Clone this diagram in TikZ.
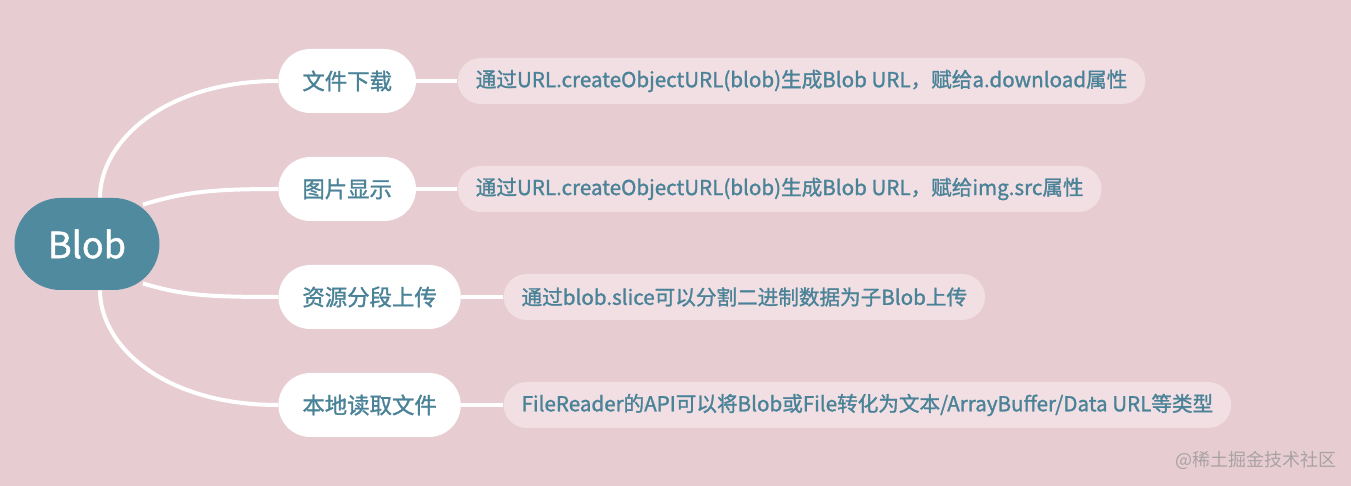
\documentclass[tikz,border=0pt]{standalone}
\usepackage{fontspec}
\setmainfont{Noto Sans CJK SC}
\newfontfamily\medfont[FakeBold=1.3]{Noto Sans CJK SC}
\usetikzlibrary{positioning,calc,backgrounds}

\definecolor{bgpink}{HTML}{E7CDD2}
\definecolor{blobteal}{HTML}{4F8A9F}
\definecolor{txtteal}{HTML}{4A8297}
\definecolor{pillpink}{HTML}{F1DFE3}
\definecolor{markgray}{HTML}{A9A2A5}

\begin{document}
\begin{tikzpicture}[x=0.5pt,y=-0.5pt,
    root/.style={fill=blobteal,text=white,rounded corners=23pt,minimum width=72.5pt,minimum height=46pt,font=\medfont\fontsize{18}{20}\selectfont},
    topic/.style={fill=white,text=txtteal,rounded corners=16pt,minimum height=32pt,inner xsep=12pt,anchor=west,font=\medfont\fontsize{11.2}{13}\selectfont},
    note/.style={fill=pillpink,text=txtteal,rounded corners=11.5pt,minimum height=23pt,inner xsep=9pt,font=\medfont\fontsize{10.3}{12}\selectfont},
    link/.style={draw=white,line width=2pt}]
    %\draw[step=50,help lines] (0,0) grid (1351,486);

    \node[root] (blob) at (87,244) {Blob};

    \node[topic] (dl) at (278,81) {文件下载};
    \node[topic] (img) at (278,189) {图片显示};
    \node[topic] (up) at (278,297) {资源分段上传};
    \node[topic] (read) at (278,405) {本地读取文件};

    \node[note, right=20.5pt of dl] (dlnote) {通过URL.createObjectURL(blob)生成Blob URL，赋给a.download属性};
    \node[note, right=20.5pt of img] (imgnote) {通过URL.createObjectURL(blob)生成Blob URL，赋给img.src属性};
    \node[note, right=21pt of up] (upnote) {通过blob.slice可以分割二进制数据为子Blob上传};
    \node[note, right=21pt of read] (readnote) {FileReader的API可以将Blob或File转化为文本/ArrayBuffer/Data URL等类型};

    \node[text=markgray, font=\fontsize{9}{11}\selectfont] (mark) at (1256,460) {@稀土掘金技术社区};

    \begin{scope}[on background layer]
    \fill[bgpink] (0,0) rectangle (1351,486);
    \draw[link] ([shift={(13,0)}]blob.north) .. controls +(0,-55) and +(-115,0) .. (dl.west);
    \draw[link] ([shift={(-17,7)}]blob.north east) .. controls +(40,-12) and +(-70,0) .. (img.west);
    \draw[link] ([shift={(-17,-7)}]blob.south east) .. controls +(40,12) and +(-70,0) .. (up.west);
    \draw[link] ([shift={(13,0)}]blob.south) .. controls +(0,55) and +(-115,0) .. (read.west);
    \draw[link] (dl) -- (dlnote);
    \draw[link] (img) -- (imgnote);
    \draw[link] (up) -- (upnote);
    \draw[link] (read) -- (readnote);
    \end{scope}

\end{tikzpicture}
\end{document}
